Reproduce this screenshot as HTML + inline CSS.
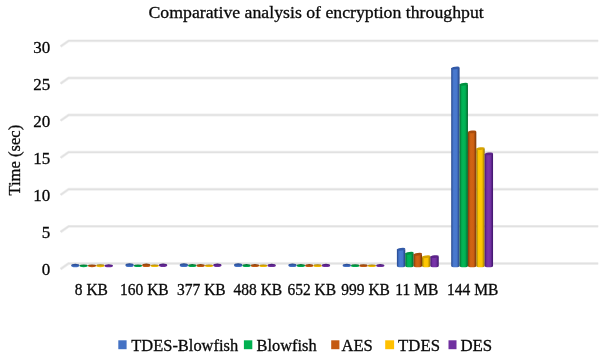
<!DOCTYPE html>
<html><head><meta charset="utf-8">
<title>Comparative analysis of encryption throughput</title>
<style>
html,body{margin:0;padding:0;background:#fff;}
body{width:603px;height:359px;overflow:hidden;position:relative;font-family:"Liberation Serif",serif;}
svg{position:absolute;left:0;top:0;display:block;filter:blur(0.35px)}
text{font-family:"Liberation Serif",serif;fill:#0a0a0a;stroke:#0a0a0a;stroke-width:0.3px;}
</style></head><body>
<svg width="603" height="359" viewBox="0 0 603 359">
<defs>
<linearGradient id="gb" x1="0" x2="1" y1="0" y2="0"><stop offset="0" stop-color="#24458a"/><stop offset="0.26" stop-color="#4676cb"/><stop offset="0.45" stop-color="#4a7ad0"/><stop offset="0.68" stop-color="#4676cb"/><stop offset="1" stop-color="#213f80"/></linearGradient>
<linearGradient id="gg" x1="0" x2="1" y1="0" y2="0"><stop offset="0" stop-color="#066a30"/><stop offset="0.26" stop-color="#00b052"/><stop offset="0.45" stop-color="#02b657"/><stop offset="0.68" stop-color="#00b052"/><stop offset="1" stop-color="#056029"/></linearGradient>
<linearGradient id="go" x1="0" x2="1" y1="0" y2="0"><stop offset="0" stop-color="#7e3a0a"/><stop offset="0.26" stop-color="#cb5f12"/><stop offset="0.45" stop-color="#d16414"/><stop offset="0.68" stop-color="#cb5f12"/><stop offset="1" stop-color="#763508"/></linearGradient>
<linearGradient id="gy" x1="0" x2="1" y1="0" y2="0"><stop offset="0" stop-color="#9a7800"/><stop offset="0.26" stop-color="#fcc400"/><stop offset="0.45" stop-color="#ffc900"/><stop offset="0.68" stop-color="#fcc400"/><stop offset="1" stop-color="#927000"/></linearGradient>
<linearGradient id="gp" x1="0" x2="1" y1="0" y2="0"><stop offset="0" stop-color="#431870"/><stop offset="0.26" stop-color="#7431a4"/><stop offset="0.45" stop-color="#7935aa"/><stop offset="0.68" stop-color="#7431a4"/><stop offset="1" stop-color="#3c1468"/></linearGradient>
<linearGradient id="vb" x1="0" x2="0" y1="0" y2="1"><stop offset="0" stop-color="#24458a"/><stop offset="0.45" stop-color="#335aa8"/><stop offset="1" stop-color="#4a7ad0"/></linearGradient>
<linearGradient id="vg" x1="0" x2="0" y1="0" y2="1"><stop offset="0" stop-color="#066a30"/><stop offset="0.45" stop-color="#00913f"/><stop offset="1" stop-color="#02b657"/></linearGradient>
<linearGradient id="vo" x1="0" x2="0" y1="0" y2="1"><stop offset="0" stop-color="#7e3a0a"/><stop offset="0.45" stop-color="#a84c0d"/><stop offset="1" stop-color="#d16414"/></linearGradient>
<linearGradient id="vy" x1="0" x2="0" y1="0" y2="1"><stop offset="0" stop-color="#9a7800"/><stop offset="0.45" stop-color="#d6a200"/><stop offset="1" stop-color="#ffc900"/></linearGradient>
<linearGradient id="vp" x1="0" x2="0" y1="0" y2="1"><stop offset="0" stop-color="#431870"/><stop offset="0.45" stop-color="#5c248a"/><stop offset="1" stop-color="#7935aa"/></linearGradient>
</defs>
<rect width="603" height="359" fill="#fff"/>
<text id="title" x="316.1" y="17.5" font-size="17.75" text-anchor="middle">Comparative analysis of encryption throughput</text>
<g id="grid" stroke="#d9d9d9" stroke-width="1.7" fill="none" stroke-linejoin="round">
<polyline points="60.6,46.45 68.6,40.85 598.2,40.85" stroke="#f0f0f0" stroke-width="2.9"/>
<polyline points="60.6,46.45 68.6,40.85 598.2,40.85" stroke="#e1e1e1" stroke-width="1.5"/>
<polyline points="60.6,83.55 68.6,77.95 598.2,77.95" stroke="#f0f0f0" stroke-width="2.9"/>
<polyline points="60.6,83.55 68.6,77.95 598.2,77.95" stroke="#e1e1e1" stroke-width="1.5"/>
<polyline points="60.6,120.65 68.6,115.05 598.2,115.05" stroke="#f0f0f0" stroke-width="2.9"/>
<polyline points="60.6,120.65 68.6,115.05 598.2,115.05" stroke="#e1e1e1" stroke-width="1.5"/>
<polyline points="60.6,157.75 68.6,152.15 598.2,152.15" stroke="#f0f0f0" stroke-width="2.9"/>
<polyline points="60.6,157.75 68.6,152.15 598.2,152.15" stroke="#e1e1e1" stroke-width="1.5"/>
<polyline points="60.6,194.85 68.6,189.25 598.2,189.25" stroke="#f0f0f0" stroke-width="2.9"/>
<polyline points="60.6,194.85 68.6,189.25 598.2,189.25" stroke="#e1e1e1" stroke-width="1.5"/>
<polyline points="60.6,231.95 68.6,226.35 598.2,226.35" stroke="#f0f0f0" stroke-width="2.9"/>
<polyline points="60.6,231.95 68.6,226.35 598.2,226.35" stroke="#e1e1e1" stroke-width="1.5"/>
<polyline points="60.6,269.05 68.6,263.45 598.2,263.45" stroke="#f0f0f0" stroke-width="2.9"/>
<polyline points="60.6,269.05 68.6,263.45 598.2,263.45" stroke="#e1e1e1" stroke-width="1.5"/>
</g>
<g id="ylab" font-size="17.0" text-anchor="end">
<text x="50.2" y="53.2">30</text>
<text x="50.2" y="90.2">25</text>
<text x="50.2" y="127.1">20</text>
<text x="50.2" y="164.1">15</text>
<text x="50.2" y="201.0">10</text>
<text x="50.2" y="237.9">5</text>
<text x="50.2" y="274.9">0</text>
</g>
<text id="ytitle" font-size="16.6" text-anchor="middle" transform="translate(20.1,160.2) rotate(-90)">Time (sec)</text>
<g id="bars">
<ellipse cx="75.29" cy="265.50" rx="4.18" ry="1.75" fill="url(#vb)"/>
<ellipse cx="83.66" cy="265.85" rx="4.18" ry="1.4" fill="url(#vg)"/>
<ellipse cx="92.03" cy="265.85" rx="4.18" ry="1.4" fill="url(#vo)"/>
<ellipse cx="100.40" cy="265.80" rx="4.18" ry="1.45" fill="url(#vy)"/>
<ellipse cx="108.77" cy="265.70" rx="4.18" ry="1.55" fill="url(#vp)"/>
<ellipse cx="129.59" cy="265.15" rx="4.18" ry="1.95" fill="url(#vb)"/>
<ellipse cx="137.96" cy="265.75" rx="4.18" ry="1.35" fill="url(#vg)"/>
<ellipse cx="146.33" cy="265.25" rx="4.18" ry="1.85" fill="url(#vo)"/>
<ellipse cx="154.70" cy="265.80" rx="4.18" ry="1.3" fill="url(#vy)"/>
<ellipse cx="163.07" cy="265.30" rx="4.18" ry="1.8" fill="url(#vp)"/>
<ellipse cx="183.88" cy="265.20" rx="4.18" ry="1.9" fill="url(#vb)"/>
<ellipse cx="192.25" cy="265.60" rx="4.18" ry="1.5" fill="url(#vg)"/>
<ellipse cx="200.62" cy="265.60" rx="4.18" ry="1.5" fill="url(#vo)"/>
<ellipse cx="209.00" cy="265.75" rx="4.18" ry="1.35" fill="url(#vy)"/>
<ellipse cx="217.36" cy="265.30" rx="4.18" ry="1.8" fill="url(#vp)"/>
<ellipse cx="238.19" cy="265.20" rx="4.18" ry="1.9" fill="url(#vb)"/>
<ellipse cx="246.56" cy="265.60" rx="4.18" ry="1.5" fill="url(#vg)"/>
<ellipse cx="254.93" cy="265.60" rx="4.18" ry="1.5" fill="url(#vo)"/>
<ellipse cx="263.30" cy="265.75" rx="4.18" ry="1.35" fill="url(#vy)"/>
<ellipse cx="271.67" cy="265.40" rx="4.18" ry="1.7" fill="url(#vp)"/>
<ellipse cx="292.49" cy="265.25" rx="4.18" ry="1.85" fill="url(#vb)"/>
<ellipse cx="300.86" cy="265.60" rx="4.18" ry="1.5" fill="url(#vg)"/>
<ellipse cx="309.23" cy="265.50" rx="4.18" ry="1.6" fill="url(#vo)"/>
<ellipse cx="317.60" cy="265.65" rx="4.18" ry="1.45" fill="url(#vy)"/>
<ellipse cx="325.97" cy="265.40" rx="4.18" ry="1.7" fill="url(#vp)"/>
<ellipse cx="346.79" cy="265.40" rx="4.18" ry="1.7" fill="url(#vb)"/>
<ellipse cx="355.16" cy="265.65" rx="4.18" ry="1.45" fill="url(#vg)"/>
<ellipse cx="363.53" cy="265.65" rx="4.18" ry="1.45" fill="url(#vo)"/>
<ellipse cx="371.90" cy="265.85" rx="4.18" ry="1.25" fill="url(#vy)"/>
<ellipse cx="380.27" cy="265.50" rx="4.18" ry="1.6" fill="url(#vp)"/>
<path d="M396.90,249.20 L396.90,265.90 A4.18,1.3 0 0 0 405.27,265.90 L405.27,249.20 Z" fill="url(#gb)"/>
<ellipse cx="401.08" cy="249.20" rx="4.23" ry="1.3" fill="#335aa8" transform="rotate(-7 401.08 249.20)"/>
<path d="M405.27,253.20 L405.27,265.90 A4.18,1.3 0 0 0 413.64,265.90 L413.64,253.20 Z" fill="url(#gg)"/>
<ellipse cx="409.45" cy="253.20" rx="4.23" ry="1.3" fill="#00913f" transform="rotate(-7 409.45 253.20)"/>
<path d="M413.64,254.20 L413.64,265.90 A4.18,1.3 0 0 0 422.01,265.90 L422.01,254.20 Z" fill="url(#go)"/>
<ellipse cx="417.82" cy="254.20" rx="4.23" ry="1.3" fill="#a84c0d" transform="rotate(-7 417.82 254.20)"/>
<path d="M422.01,256.80 L422.01,265.90 A4.18,1.3 0 0 0 430.38,265.90 L430.38,256.80 Z" fill="url(#gy)"/>
<ellipse cx="426.19" cy="256.80" rx="4.23" ry="1.3" fill="#d6a200" transform="rotate(-7 426.19 256.80)"/>
<path d="M430.38,256.60 L430.38,265.90 A4.18,1.3 0 0 0 438.75,265.90 L438.75,256.60 Z" fill="url(#gp)"/>
<ellipse cx="434.56" cy="256.60" rx="4.23" ry="1.3" fill="#5c248a" transform="rotate(-7 434.56 256.60)"/>
<path d="M451.20,68.00 L451.20,265.90 A4.18,1.3 0 0 0 459.57,265.90 L459.57,68.00 Z" fill="url(#gb)"/>
<ellipse cx="455.38" cy="68.00" rx="4.23" ry="1.3" fill="#335aa8" transform="rotate(-7 455.38 68.00)"/>
<path d="M459.57,84.20 L459.57,265.90 A4.18,1.3 0 0 0 467.94,265.90 L467.94,84.20 Z" fill="url(#gg)"/>
<ellipse cx="463.75" cy="84.20" rx="4.23" ry="1.3" fill="#00913f" transform="rotate(-7 463.75 84.20)"/>
<path d="M467.94,131.90 L467.94,265.90 A4.18,1.3 0 0 0 476.31,265.90 L476.31,131.90 Z" fill="url(#go)"/>
<ellipse cx="472.12" cy="131.90" rx="4.23" ry="1.3" fill="#a84c0d" transform="rotate(-7 472.12 131.90)"/>
<path d="M476.31,148.60 L476.31,265.90 A4.18,1.3 0 0 0 484.68,265.90 L484.68,148.60 Z" fill="url(#gy)"/>
<ellipse cx="480.50" cy="148.60" rx="4.23" ry="1.3" fill="#d6a200" transform="rotate(-7 480.50 148.60)"/>
<path d="M484.68,153.90 L484.68,265.90 A4.18,1.3 0 0 0 493.05,265.90 L493.05,153.90 Z" fill="url(#gp)"/>
<ellipse cx="488.87" cy="153.90" rx="4.23" ry="1.3" fill="#5c248a" transform="rotate(-7 488.87 153.90)"/>
</g>
<g id="xlab" font-size="15.5" text-anchor="middle" transform="translate(0,294.6) scale(1,1.04) translate(0,-294.6)">
<text x="91.35" y="294.6">8 KB</text>
<text x="144.4" y="294.6">160 KB</text>
<text x="201.4" y="294.6">377 KB</text>
<text x="257.9" y="294.6">488 KB</text>
<text x="311.8" y="294.6">652 KB</text>
<text x="365.6" y="294.6">999 KB</text>
<text x="416.8" y="294.6">11 MB</text>
<text x="472.7" y="294.6">144 MB</text>
</g>
<g id="legend" font-size="16.4">
<rect x="118.3" y="340.3" width="8.3" height="8.9" fill="#4472c4"/><text x="131.3" y="350.9" font-size="16.45">TDES-Blowfish</text>
<rect x="243.9" y="340.3" width="8.4" height="8.9" fill="#00b050"/><text x="256.5" y="350.9" font-size="16.4">Blowfish</text>
<rect x="331.2" y="340.3" width="8.2" height="8.9" fill="#c55a11"/><text x="341.5" y="350.9" font-size="16.6">AES</text>
<rect x="385.2" y="340.3" width="8.9" height="8.9" fill="#ffc000"/><text x="398.1" y="350.9" font-size="16.75">TDES</text>
<rect x="448.5" y="340.3" width="8.0" height="8.9" fill="#7030a0"/><text x="460.4" y="350.9" font-size="16.85">DES</text>
</g>
</svg>
</body></html>
